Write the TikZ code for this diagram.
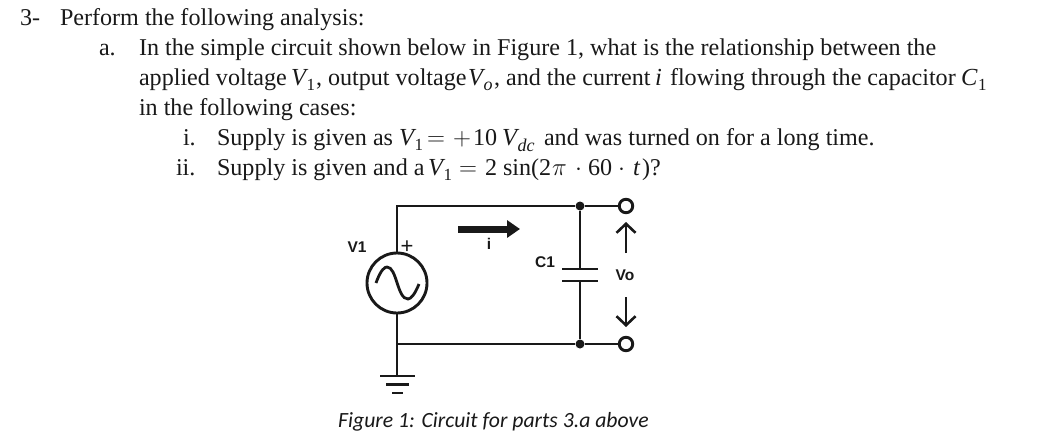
\documentclass[tikz,border=0pt]{standalone}
\usepackage{fontspec}
\setmainfont{Liberation Serif}
\newfontfamily\capfont{Carlito}
\newfontfamily\labfont{Liberation Sans}
\usetikzlibrary{arrows.meta}
\begin{document}
\begin{tikzpicture}[x=1pt,y=-1pt,
  txt/.style={anchor=base west,inner sep=0pt,outer sep=0pt,font=\fontsize{24.1}{26}\selectfont,text=black!90},
  mth/.style={txt,font=\itshape\fontsize{24.5}{26}\selectfont},
  sub/.style={txt,font=\fontsize{17}{17}\selectfont},
  subi/.style={txt,font=\itshape\fontsize{18}{18}\selectfont},
  wire/.style={line width=2.9pt,draw=black!90},
  term/.style={circle,draw=black!90,line width=2.9pt,fill=white,minimum size=13.5pt,inner sep=0pt},
  dotn/.style={circle,fill=black!90,minimum size=9pt,inner sep=0pt},
  lab/.style={inner sep=0pt,text=black!90,font=\labfont\bfseries\fontsize{15.5}{16}\selectfont},
  vsense/.style={line width=2.6pt,draw=black!90,-{Straight Barb[length=9pt,width=19pt,line width=2.6pt]}}]
\useasboundingbox (0,0) rectangle (1048,440);
\fill[white] (0,0) rectangle (1048,440);

\node[txt] (n3) at (20,25) {3-};
\node[txt] (l1) at (60,25) {Perform the following analysis:};
\node[txt] (na) at (99,55) {a.};
\node[txt] (l2) at (139,55) {In the simple circuit shown below in Figure 1, what is the relationship between the};
% line 3
\node[txt] (l3a) at (139,85) {applied voltage};
\node[mth] (l3b) at (291,85) {V};
\node[sub] (l3c) at (306.5,90) {1};
\node[txt] (l3d) at (316,85) {, output voltage};
\node[mth] (l3e) at (468,85) {V};
\node[subi] (l3f) at (483.5,90) {o};
\node[txt] (l3g) at (494,85) {, and the current};
\node[mth] (l3h) at (655,85) {i};
\node[txt] (l3i) at (670,85) {flowing through the capacitor};
\node[mth] (l3j) at (961,85) {C};
\node[sub] (l3k) at (978,90) {1};
\node[txt] (l4) at (139,115) {in the following cases:};
% line 5
\node[txt] (ni) at (183,145) {i.};
\node[txt] (l5a) at (217,145) {Supply is given as};
\node[mth] (l5b) at (399,145) {V};
\node[sub] (l5c) at (414.5,150) {1};
\node[txt] (l5d) at (427,145) {$=$};
\node[txt] (l5e) at (453,145) {$+$};
\node[txt] (l5f) at (473,145) {10};
\node[mth] (l5g) at (502,145) {V};
\node[subi] (l5h) at (517.5,151) {dc};
\node[txt] (l5i) at (544,145) {and was turned on for a long time.};
% line 6
\node[txt] (nii) at (176,175) {ii.};
\node[txt] (l6a) at (217,175) {Supply is given and a};
\node[mth] (l6b) at (428,175) {V};
\node[sub] (l6c) at (443.5,180) {1};
\node[txt] (l6d) at (459,175) {$=$};
\node[txt] (l6e) at (485,175) {2};
\node[txt] (l6f) at (503,175) {sin(2};
\node[mth] (l6g) at (552,175) {$\pi$};
\node[txt] (l6h) at (575,175) {$\cdot$};
\node[txt] (l6i) at (588,175) {60};
\node[txt] (l6j) at (618,175) {$\cdot$};
\node[mth] (l6k) at (633,175) {t};
\node[txt] (l6l) at (642,175) {)?};

% circuit
\node[circle,draw=black!90,line width=2.9pt,minimum size=60pt,inner sep=0pt] (src) at (397,283) {};
\coordinate (tl) at (397,206);
\coordinate (bl) at (397,344);
\node[dotn] (jt) at (580,206) {};
\node[dotn] (jb) at (580,344) {};
\node[term] (tt) at (626,206) {};
\node[term] (tb) at (626,344) {};
\coordinate (p1) at (580,269);
\coordinate (p2) at (580,281);
\coordinate (g0) at (397,376);
\draw[wire] (src.north) -- (tl) -- (jt) -- (tt);
\draw[wire] (src.south) -- (g0);
\draw[wire] (bl) -- (jb) -- (tb);
\draw[wire] (jt) -- (p1);
\draw[wire] (p2) -- (jb);
\draw[wire] (562,269) -- (598,269);
\draw[wire] (562,281) -- (598,281);
\draw[wire] (380,376) -- (415,376);
\draw[wire] (386,384.5) -- (409,384.5);
\draw[wire] (392,393) -- (403,393);
\draw[line width=2.8pt,draw=black!90] (376,283) .. controls (381,269) and (385,267) .. (387,267) .. controls (397,267) and (397,299) .. (408,299) .. controls (411,299) and (415,294) .. (419,284);
% current arrow
\coordinate (ia) at (458,229);
\coordinate (ib) at (520,229);
\draw[line width=7pt,draw=black!90,-{Triangle[length=13pt,width=17pt]}] (ia) -- (ib);
\node[lab] (li) at (489,244) {i};
\node[lab] (lv) at (357,247) {V1};
\node[font=\labfont\fontsize{22}{22}\selectfont,inner sep=0pt,text=black!90] (lp) at (407,247) {+};
\node[lab] (lc) at (545,262) {C1};
\node[lab] (lo) at (625,275) {Vo};
\draw[vsense] (626,253) -- (626,222);
\draw[vsense] (626,297) -- (626,327);
\node[anchor=base west,inner sep=0pt,font=\capfont\itshape\fontsize{21.7}{24}\selectfont,text=black!90] (cap) at (338,427) {Figure 1: Circuit for parts 3.a above};
\end{tikzpicture}
\end{document}
